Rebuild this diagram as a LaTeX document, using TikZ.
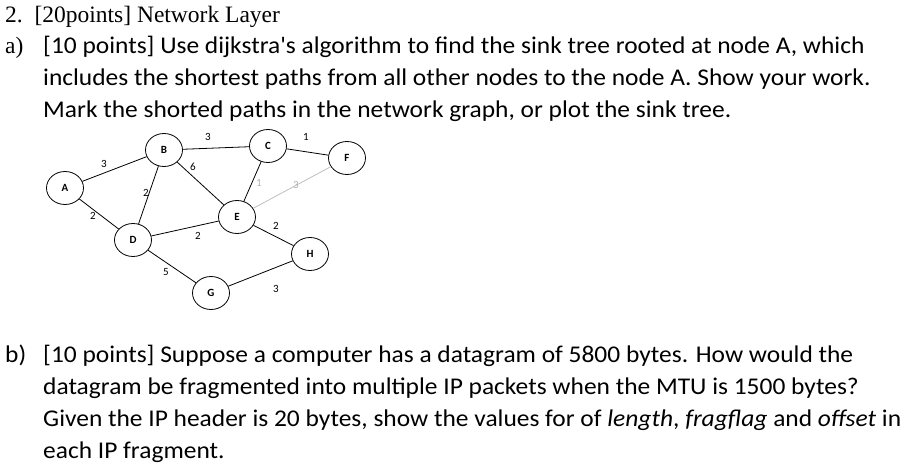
\documentclass[tikz,border=0pt]{standalone}
\usepackage{fontspec}
\usetikzlibrary{shapes.geometric}
\setmainfont{Carlito}[FakeStretch=1.06]
\newfontfamily\apos{Carlito}[FakeStretch=1.06]
\newfontfamily\tnr{Liberation Serif}
\newfontfamily\lbl{Carlito}
\begin{document}
\begin{tikzpicture}[x=1pt,y=-1pt,
 nd/.style={draw,thick,ellipse,minimum width=37pt,minimum height=33pt,inner sep=0pt,font=\lbl\fontsize{11}{11}\selectfont\bfseries},
 ed/.style={thick},
 wt/.style={font=\lbl\fontsize{11}{11}\selectfont,inner sep=0pt},
 tx/.style={anchor=base west,inner sep=0pt,font=\fontsize{24}{24}\selectfont}]
\useasboundingbox (0,0) rectangle (907,465);
\node[tx,font=\fontsize{23.5}{24}\tnr] (t0) at (5,23) {2.\ \ [20points] Network Layer};
\node[tx,font=\fontsize{23.5}{24}\tnr] (ta) at (5,54) {a)};
\node[tx] (ta1) at (43,54) {[10 points] Use dijkstra{\apos'}s algorithm to find the sink tree rooted at node A, which};
\node[tx] (ta2) at (43,86) {includes the shortest paths from all other nodes to the node A. Show your work.};
\node[tx] (ta3) at (43,118) {Mark the shorted paths in the network graph, or plot the sink tree.};
\node[tx] (tb) at (5,362) {b)};
\node[tx] (tb1) at (43,362) {[10 points] Suppose a computer has a datagram of 5800 bytes. How would the};
\node[tx] (tb2) at (43,394) {datagram be fragmented into multiple IP packets when the MTU is 1500 bytes?};
\node[tx] (tb3) at (43,426) {Given the IP header is 20 bytes, show the values for of \textit{length}, \textit{fragflag} and \textit{offset} in};
\node[tx] (tb4) at (43,458) {each IP fragment.};
\node[nd] (A) at (65,188) {A};
\node[nd] (B) at (164,150) {B};
\node[nd] (C) at (268,146) {C};
\node[nd] (F) at (347,158) {F};
\node[nd] (E) at (237,217) {E};
\node[nd] (D) at (133,240) {D};
\node[nd] (H) at (310,254) {H};
\node[nd] (G) at (211,293) {G};
\draw[ed] (A)--(B); \draw[ed] (A)--(D); \draw[ed] (B)--(D); \draw[ed] (B)--(C);
\draw[ed] (B)--(E); \draw[ed] (C)--(F); \draw[ed] (C)--(E); \draw[ed,gray!50] (E)--(F);
\draw[ed] (D)--(E); \draw[ed] (E)--(H); \draw[ed] (D)--(G); \draw[ed] (G)--(H);
\node[wt] (w1) at (104,164) {3};
\node[wt] (w2) at (93,216) {2};
\node[wt] (w3) at (146,193) {2};
\node[wt] (w4) at (208,137) {3};
\node[wt] (w5) at (193,167) {6};
\node[wt] (w6) at (306,137) {1};
\node[wt,gray!60] (w7) at (259,183) {1};
\node[wt,gray!60] (w8) at (296,185) {3};
\node[wt] (w9) at (198,236) {2};
\node[wt] (w10) at (276,226) {2};
\node[wt] (w11) at (166,272) {5};
\node[wt] (w12) at (276,289) {3};
\end{tikzpicture}
\end{document}
